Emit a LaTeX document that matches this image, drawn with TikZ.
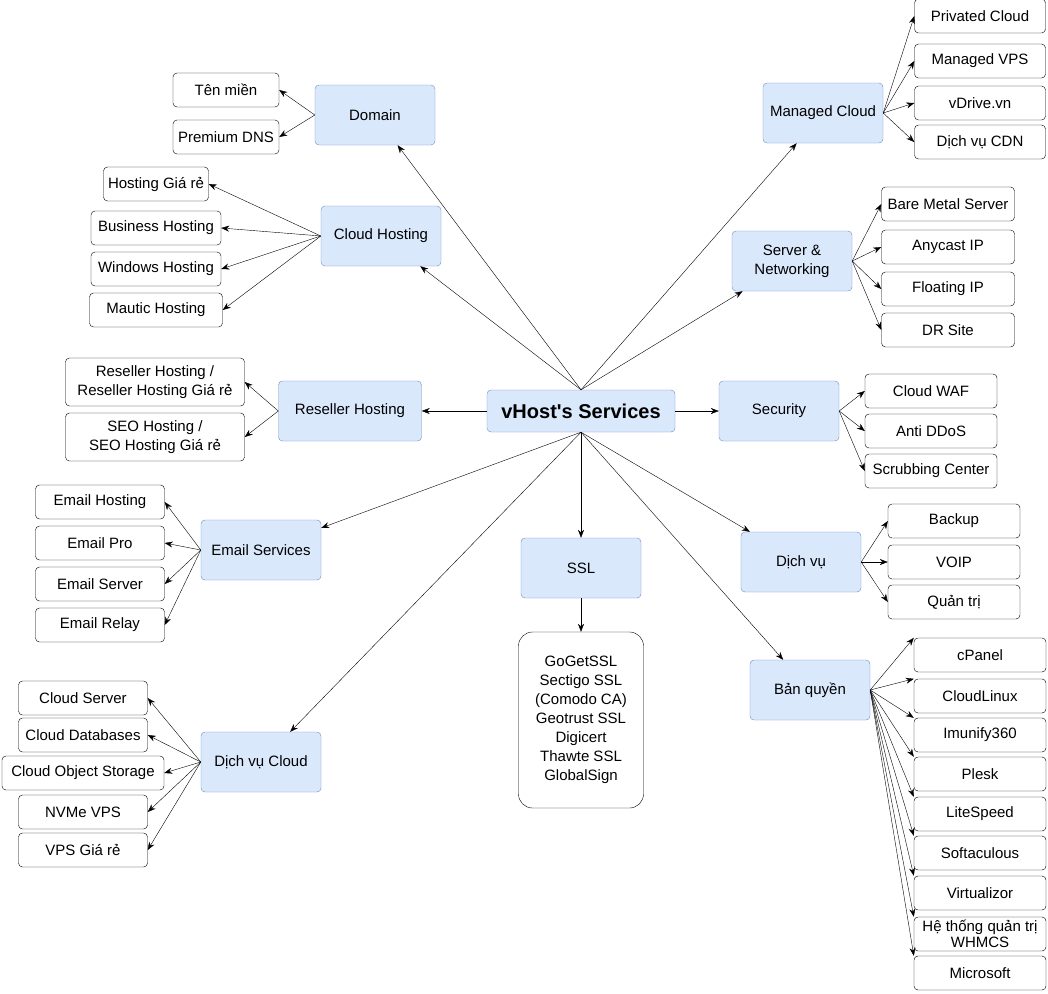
\documentclass[tikz,border=0pt]{standalone}
\usepackage{fontspec}
\setmainfont{Liberation Sans}
\usetikzlibrary{arrows.meta}
\definecolor{hubfill}{HTML}{DAE8FC}
\definecolor{hubdraw}{HTML}{6C8EBF}
\tikzset{
  hub/.style={rectangle, rounded corners=4pt, draw=hubdraw, fill=hubfill, minimum width=120pt, minimum height=60pt, inner sep=0pt, align=center, font=\fontsize{15}{19}\selectfont},
  leaf/.style={rectangle, rounded corners=4pt, draw=black, fill=white, minimum height=34pt, inner sep=0pt, align=center, font=\fontsize{15}{19}\selectfont},
  arrow/.style={->, >={Stealth[length=8pt,width=6pt]}}
}
\begin{document}
\begin{tikzpicture}[x=1pt,y=-1pt]
\useasboundingbox (0,0) rectangle (1048,993);
% main and second level
\node (main) [hub, minimum width=188pt, minimum height=42pt, font=\fontsize{20}{24}\selectfont\bfseries] at (581,411) {vHost\textquotesingle s Services};
\node (dom)  [hub] at (375,115) {Domain};
\node (chost)[hub] at (381,236) {Cloud Hosting};
\node (res)  [hub, minimum width=143pt] at (350,411) {Reseller Hosting};
\node (mail) [hub] at (261,550) {Email Services};
\node (dcl)  [hub] at (261,762) {Dịch vụ Cloud};
\node (ssl)  [hub] at (581,568) {SSL};
\node (lic)  [hub] at (810,690) {Bản quyền};
\node (svc)  [hub] at (801,562) {Dịch vụ};
\node (sec)  [hub] at (779,411) {Security};
\node (srv)  [hub] at (792,261) {Server \&\\Networking};
\node (mcl)  [hub] at (823,113) {Managed Cloud};

\draw [arrow] (main.north) -- (dom);
\draw [arrow] (main.north) -- (chost);
\draw [arrow] (main.north) -- (mcl);
\draw [arrow] (main.north) -- (srv);
\draw [arrow] (main) -- (res);
\draw [arrow] (main) -- (sec);
\draw [arrow] (main.south) -- (mail);
\draw [arrow] (main.south) -- (dcl);
\draw [arrow] (main.south) -- (ssl);
\draw [arrow] (main.south) -- (svc);
\draw [arrow] (main.south) -- (lic);

% leaves
\foreach \n/\y/\t in {a/90/Tên miền, b/137/Premium DNS}{
  \node (dom\n) [leaf, minimum width=106pt] at (226,\y) {\t};
  \draw [arrow] (dom.west) -- (dom\n.east);}
\foreach \n/\y/\w/\t in {a/184/105/Hosting Giá rẻ, b/228/130/Business Hosting, c/269/130/Windows Hosting, d/310/133/Mautic Hosting}{
  \node (chost\n) [leaf, minimum width=\w pt] at (156,\y) {\t};
  \draw [arrow] (chost.west) -- (chost\n.east);}
\node (resa) [leaf, minimum width=179pt, minimum height=48pt] at (155,382) {Reseller Hosting /\\Reseller Hosting Giá rẻ};
\node (resb) [leaf, minimum width=179pt, minimum height=48pt] at (155,437) {SEO Hosting /\\SEO Hosting Giá rẻ};
\draw [arrow] (res.west) -- (resa.east);
\draw [arrow] (res.west) -- (resb.east);
\foreach \n/\y/\t in {a/502/Email Hosting, b/543/Email Pro, c/584/Email Server, d/625/Email Relay}{
  \node (mail\n) [leaf, minimum width=129pt] at (100,\y) {\t};
  \draw [arrow] (mail.west) -- (mail\n.east);}
\foreach \n/\y/\w/\t in {a/698/129/Cloud Server, b/735/129/Cloud Databases, c/773/162/Cloud Object Storage, d/812/129/NVMe VPS, e/850/129/VPS Giá rẻ}{
  \node (dcl\n) [leaf, minimum width=\w pt] at (83,\y) {\t};
  \draw [arrow] (dcl.west) -- (dcl\n.east);}
\node (ssla) [leaf, minimum width=125pt, minimum height=176pt, rounded corners=14pt] at (581,720)
  {GoGetSSL\\Sectigo SSL\\(Comodo CA)\\Geotrust SSL\\Digicert\\Thawte SSL\\GlobalSign};
\draw [arrow] (ssl) -- (ssla);
\foreach \n/\y/\t in {a/655/cPanel, b/696/CloudLinux, c/735/Imunify360, d/774/Plesk, e/814/LiteSpeed, f/853/Softaculous, g/893/Virtualizor, h/934/{Hệ thống quản trị\\[-3pt]WHMCS}, i/973/Microsoft}{
  \node (lic\n) [leaf, minimum width=132pt] at (980,\y) {\t};
  \draw [arrow] (lic.east) -- (lic\n.north west);}
\foreach \n/\y/\t in {a/521/Backup, b/562/VOIP, c/602/Quản trị}{
  \node (svc\n) [leaf, minimum width=132pt] at (954,\y) {\t};
  \draw [arrow] (svc.east) -- (svc\n.west);}
\foreach \n/\y/\t in {a/391/Cloud WAF, b/431/Anti DDoS, c/471/Scrubbing Center}{
  \node (sec\n) [leaf, minimum width=132pt] at (931,\y) {\t};
  \draw [arrow] (sec.east) -- (sec\n.west);}
\foreach \n/\y/\t in {a/204/Bare Metal Server, b/247/Anycast IP, c/289/Floating IP, d/330/DR Site}{
  \node (srv\n) [leaf, minimum width=133pt] at (948,\y) {\t};
  \draw [arrow] (srv.east) -- (srv\n.west);}
\foreach \n/\y/\t in {a/16/Privated Cloud, b/61/Managed VPS, c/103/vDrive.vn, d/142/Dịch vụ CDN}{
  \node (mcl\n) [leaf, minimum width=131pt] at (980,\y) {\t};
  \draw [arrow] (mcl.east) -- (mcl\n.west);}
\end{tikzpicture}
\end{document}
